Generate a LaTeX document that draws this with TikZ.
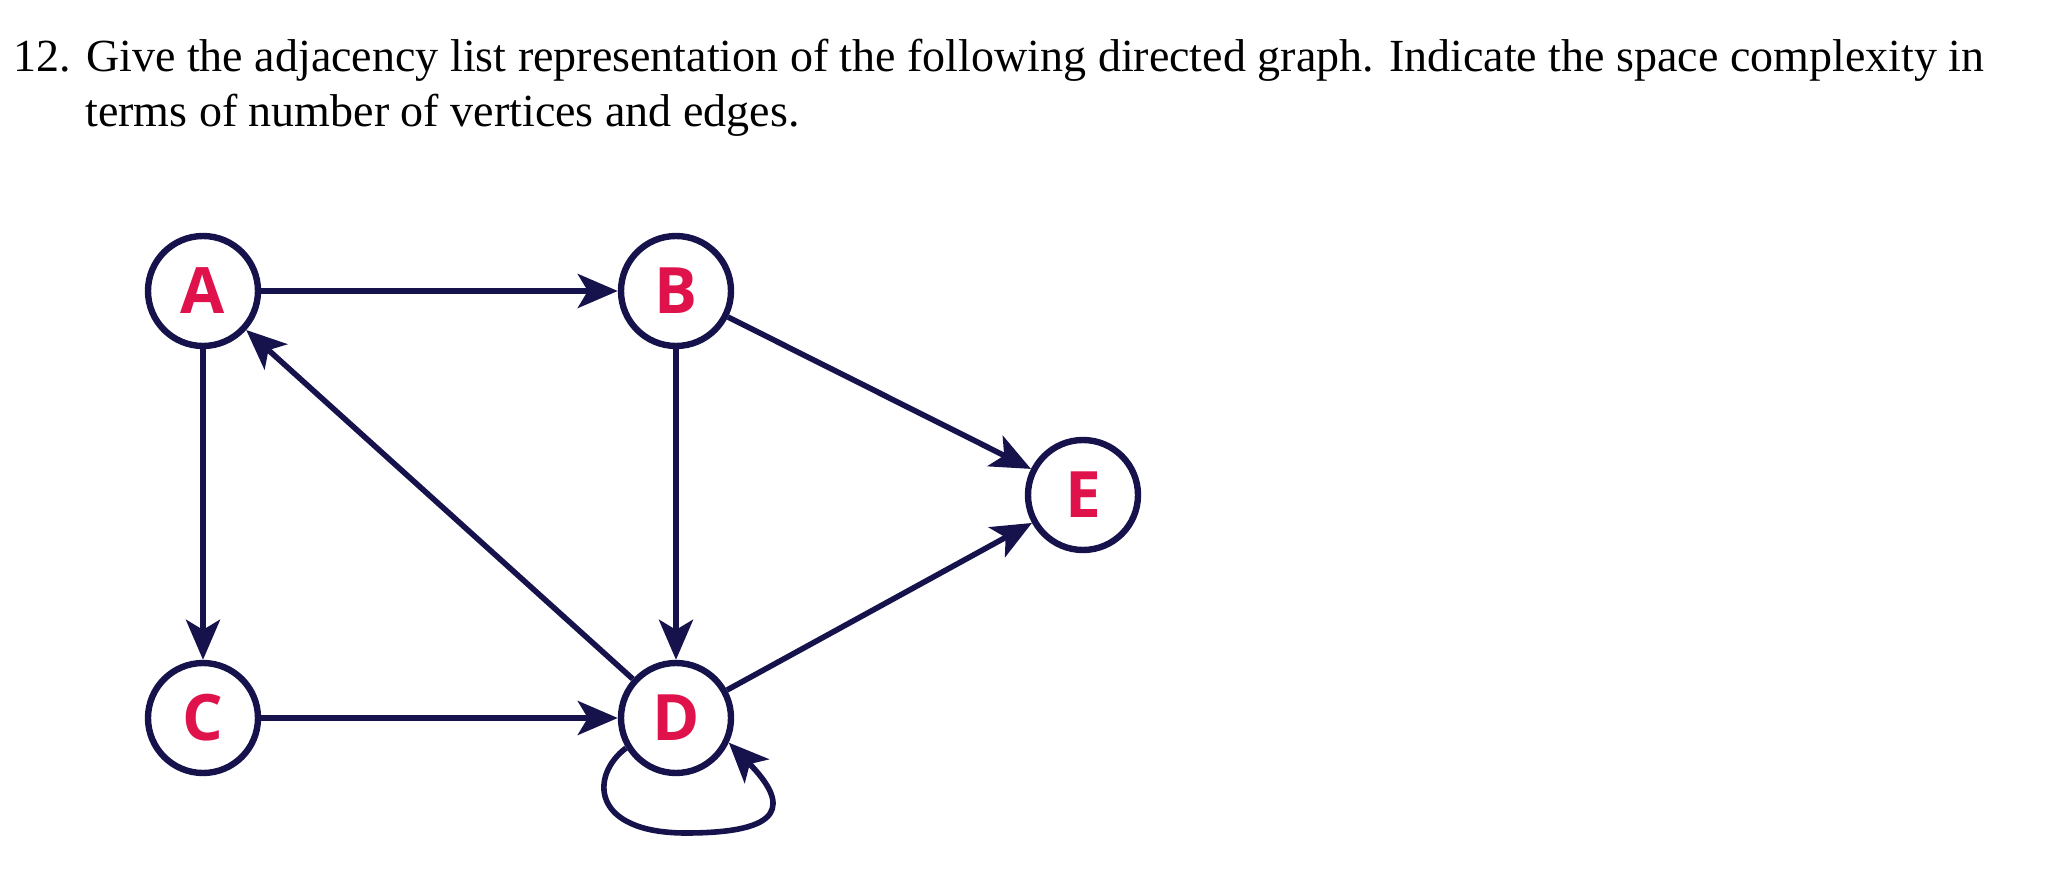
\documentclass[tikz,border=0pt]{standalone}
\usepackage{fontspec}
\setmainfont{Liberation Serif}
\newfontfamily\lblfont{Open Sans}
\usetikzlibrary{arrows.meta}
\definecolor{navy}{HTML}{16134C}
\definecolor{lblred}{HTML}{E0124C}
\begin{document}
\begin{tikzpicture}[x=0.5pt,y=-0.5pt,
  vert/.style={circle,draw=navy,line width=3.2pt,fill=white,minimum size=55pt,inner sep=0pt,
    font=\lblfont\bfseries\fontsize{32}{34}\selectfont,text=lblred},
  edge/.style={draw=navy,line width=2.8pt,-{Stealth[length=20pt,width=17pt,inset=5pt]}},
  qtext/.style={anchor=base west,inner sep=0pt,font=\fontsize{23}{27}\selectfont}]
\useasboundingbox (0,0) rectangle (2058,882);
\node[qtext] (q1) at (13,72) {12. Give the adjacency list representation of the following directed graph. Indicate the space complexity in};
\node[qtext] (q2) at (85,127) {terms of number of vertices and edges.};
\node[vert] (A) at (203,291) {A};
\node[vert] (B) at (676,291) {B};
\node[vert] (C) at (203,718) {C};
\node[vert] (D) at (676,718) {D};
\node[vert] (E) at (1083,495) {E};
\coordinate (loopbot) at (686,833);
\draw[edge] (A) -- (B);
\draw[edge] (A) -- (C);
\draw[edge] (B) -- (D);
\draw[edge] (C) -- (D);
\draw[edge] (D) -- (A);
\draw[edge] (B) -- (E);
\draw[edge] (D) -- (E);
\draw[edge] (D.211) .. controls (590,775) and (590,833) .. (loopbot)
  .. controls (785,833) and (790,805) .. (D.-25);
\end{tikzpicture}
\end{document}
